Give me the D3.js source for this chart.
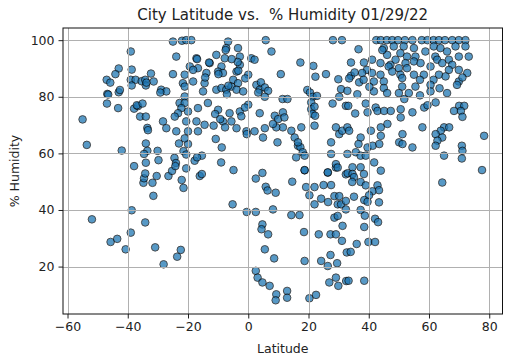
<!DOCTYPE html>
<html>
<head>
<meta charset="utf-8">
<script src="https://cdn.jsdelivr.net/npm/d3@7"></script>
<style>
  body { margin: 0; background: #fff; }
  svg { display: block; font-family: "DejaVu Sans", sans-serif; }
</style>
</head>
<body>
<svg id="vis"></svg>
<script>
const WIDTH = 515;
const HEIGHT = 364;

const TITLE = "City Latitude vs.  % Humidity 01/29/22";
const X_LABEL = "Latitude";
const Y_LABEL = "% Humidity";

const xTicks = [-60, -40, -20, 0, 20, 40, 60, 80];
const yTicks = [20, 40, 60, 80, 100];

// [latitude, humidity], grouped by area
const farSouth = [
  [-55,72],[-53.6,63],[-42,61],[-47,86],[-45.8,85],[-43,90],[-44.1,88],[-46.8,81],[-46.5,80.8],
  [-43,81.6],[-42.6,82.4],[-46.9,77.6],[-43.2,76],[-39,96],[-38.7,89.6],[-39,86],[-37.4,86],
  [-38.7,84],[-35.4,85.5],[-34.2,86],[-34,84],[-33.8,85],[-32.3,88.2],[-31.4,85.4],[-37.9,75.8],
  [-36.6,76.7],[-37,77],[-35.9,73],[-34,73],[-35.1,77.6],[-33.5,69],[-33.3,68.2],[-34,63.5],
  [-33.5,60.9],[-34.6,59.8],[-34,56.7],[-30.1,60.9],[-29.8,57.6],[-37.9,55.5],
  [-51.9,36.7],[-45.7,28.7],[-43.5,29.8],[-40.7,26.1],[-38.7,39.9],[-39,32],[-34.2,35.6],
  [-30.9,26.8],[-34.8,49.6],[-34.6,51.2],[-34.2,52.9],[-31.8,49.6],[-31.5,45],[-30.4,52]
];

const south = [
  [-23,63.5],[-20,63.3],[-21.5,60.8],[-20.6,59.6],[-17.8,57.4],[-24.5,58.4],[-24,56.6],
  [-21.1,65.3],[-28.1,20.8],[-23.6,23.5],[-22.4,25.9],[-26.5,52],[-25.3,53.8],[-24.2,55.5],
  [-22.1,50.6],[-21.5,47.8],[-20.6,54.7],[-16.1,52],
  [-25,99.5],[-22,99.8],[-20.6,100],[-18.9,100],[-6.7,99.5],[-7.3,97.2],[-3.4,97.2],
  [-23.9,94.2],[-17.2,93.6],[-10.6,94.8],[-7.8,93.6],[-2.8,94.2],[1,93.6],[2.1,93.1],
  [-19.4,90.7],[-12.8,91.9],[-8.9,90.7],[-2.8,91.3],[-3.5,92.3],
  [-16.7,90.1],[-18.3,89.5],[-13.9,88.4],[-10,88.9],[-8.4,88.4],[-3.9,88.9],[0,87.8],
  [-25,88],[-21.1,87.8],[-21.7,84.8],[-18.3,85.4],[-14.5,84.8],[-5,86],[-3.4,84.8],[-1,86.5],
  [-28.9,82.5],[-27.2,81.9],[-29.2,81.5],[-21.1,83.6],
  [-10.6,82.5],[-8.9,83.1],[-7.3,82.5],[-5.6,83.6],[-3.9,82.5],[-1.7,81.9],[2.7,84.2],[3.8,82.5],
  [-21.1,80.1],[-15,81.9],
  [-22.8,77.8],[-21.1,77.8],[-22.2,76],[-20,74.8],[-23.3,74.2],[-16.7,76],[-13.4,77.8],[-10,75.4],
  [-6.2,74.2],[-2.8,74.8],[-2.3,73.1],[0,77.2],[3.8,74.2],
  [-28.3,71.3],[-27.2,68.9],[-24.4,73],[-20.6,71.3],[-17.2,71.3],[-8.4,71.3],[-5.6,71.3],
  [-3.9,68.9],[-0.6,67.8],[2.1,67.8],[5.5,68.9],[-23.9,67.8],[-20,67.8],[-16.7,67.8],[-14.5,70.1],
  [-13,92.1],[-7.5,96.5],[-5.5,93.3],[-9.9,88],[-3.3,89.2],[-6.6,83.9],[4.2,85.1],[5.5,83.3],
  [6.6,82.1],[3.3,81.5],[5.5,80],[-7.1,80.9],[-14.3,86.8],[-17,93.3],
  [-11,73.9],[-7.7,69.2],[-11.5,69.8],[-9.3,72.1],[-1.1,76.2],[-0.5,66.8],[-10.8,65.1],[4.9,65.6]
];

const tropics = [
  [-8.8,62.1],[-15.4,59.2],[-17,58.6],[-9,56.8],[-4.9,54.1],[-15.4,52.7],[4.7,53.1],
  [-5.2,42],[-0.5,39.3],[2.5,39.3],[2.5,51.1],[5.8,48.2],[6.4,46.9],[9.1,46.1],[8.2,40.2],
  [14.6,50],[18.7,54],[14.3,38.2],[17,38.2],[4.7,34.9],[4.4,33.2],[6.6,31.4],[5.5,26.1],
  [8.6,22.9],[18.5,32.2],[23.4,31.4],[27.3,31.4],[29.1,31.4],[31.1,29.1],[19.2,48.1],
  [20.3,45.2],[22,48.1],[25,48.8],[27.5,48.8],[26.4,53.2],[29.1,55],[24.2,44],[22,42],
  [26.5,42.8],[28.6,44.9],[30.2,44.9],[29.7,42],[30.8,42],[32.4,43.2],[32.4,40.2],[28.6,37.3],
  [29.7,37.9],[31.3,34.4],[32.4,52.6],[32.7,25],[18.7,22],[24.2,22],[26.4,20.2],[27.3,24.1],
  [29.5,21.2],[2.5,18.5],[3.1,16.1],[4.7,14.4],[7.1,13.2],[9.3,10.2],[9.1,8.1],[12.9,11.4],
  [12.9,9],[20.3,8.8],[22.5,10],[26.9,14.4],[29.1,16.1],[29.9,13.2],[32.5,14.9],
  [16.5,62.7],[17.3,62.2],[18.1,60.4],[15.9,58.6],[18.7,59.2],[18.7,54.1],[27.5,59.8],
  [29.1,56.2],[29.7,55],[26.4,53.3],[33,53],
  [7.7,96],[5.8,100],[10.8,88],[11.4,79.2],[13,79.2],[17.3,92.1],[19.6,82.4],[20.5,81.5],
  [21.4,80],[22.8,80.3],[21.6,90.9],[22.3,87.1],[25.8,88],[28.1,100],[31.1,100],[29.9,86.2],
  [30.8,82.7],[30.2,80],[28,77.6],[32.4,76.8],[20.9,78],[20.9,75.6],[21.4,73.9],[22,76.5],
  [8.8,73.3],[9.9,72.1],[11.5,74.5],[12,72.7],[11.5,69.2],[9.3,69.2],[8.2,70.4],[9.7,63.9],
  [14.3,68],[15.4,65.6],[16.5,63.9],[17.6,69.2],[22,69.8],[22.2,73.3],[27.5,63.9],[29.1,69.2],
  [30.2,66.8],[31.2,68],[32.9,69.2]
];

const north = [
  [36.6,96.8],[34.1,92.1],[34.1,87.4],[35.3,88.6],[36.8,85.1],[32.9,82.1],[33.5,86.5],
  [36.2,80.9],[51.8,79.2],
  [33.2,76.8],[35.5,74.1],[39,77.6],[39.6,74.5],[42.3,76.2],[42.9,75],[45.1,75],[47.3,75],
  [50.6,75.6],[50.6,72.7],[54.5,74.5],[58.4,76.2],[57.8,69.2],[33.5,68],[37.3,65.6],[40.7,68],
  [44,66.2],[44,69.2],[46.2,70.4],[51.2,66.8],[50.1,63.9],[51.2,63.3],[54.5,62.1],[36.6,63.3],
  [39.6,62.1],[41.3,62.7],[43.5,63.3],[32.9,59.8],[35.7,60.4],[37.3,59.2],[39,59.2],[34.6,55.1],
  [37.3,55.1],[38.4,52.7],[41.8,56.8],[44,53.9],[34.6,52.7],
  [64.4,49.7],[35.1,51.6],[34.5,49.9],[37.3,49.9],[39,48.7],[42.9,48.7],[43.4,47],[41.2,46.6],
  [40.1,45.2],[35.1,44.7],[38.5,43.5],[39.6,42.9],[43.4,42.7],[37.3,40],[38.7,38],[42.1,36.9],
  [43.1,35.7],[38.5,34],[36,28],[34,25.2],[39.9,28.7],[42.1,28.7],[33.3,15],[38.5,15],
  [62.2,78],[59.5,77],[70,76.8],[71.7,76.8],[68.3,75],[70.6,75],[71.1,72.9],[78.3,66.2],
  [65,69.2],[66.7,69.2],[63.9,68],[62.2,66.8],[64.4,65.6],[62.8,64.5],[62.2,62.7],[65,59.2],
  [70.9,62.7],[71.1,60.9],[70.9,58.2],[77.6,54.1]
];

const farNorth = [
  [42.5,100],[44,100],[46,100],[47.8,100],[49.7,100],[52,100],[54.5,100],[57.6,100],[59.5,100],
  [61.5,100],[63.3,100],[65.3,100],[67.7,100],[69.9,100],[72.1,100],
  [45,97.2],[48.3,97.8],[51.6,97.8],[55,97.2],[61.6,97.8],[63.8,97.2],[66,96],[68.8,97.8],[72.1,97.8],
  [46.1,94.8],[50.5,95.4],[52.7,94.2],[55.5,94.2],[58.8,96],[62.1,94.2],[66.6,93.1],[69.9,94.2],[73.2,94.2],
  [41.1,93.1],[43.9,91.9],[47.2,91.3],[48.9,93.1],[52.2,91.9],[55,92.5],[57.2,91.9],[62.7,93.1],
  [64.4,91.9],[67.7,91.3],
  [39.4,89.5],[46.6,90.7],[50,90.1],[52.7,90.1],[60.5,90.7],[66.6,89.5],[69.9,89.5],
  [37.8,88.4],[41.1,88.4],[43.9,87.8],[47.8,88.9],[50.5,87.8],[55,87.8],[58.3,87.8],[63.3,87.8],
  [65.5,87.2],[72.7,88.4],
  [38.3,86],[41.7,85.4],[45,85.4],[51.1,86.6],[57,86],[61.5,86],[69.9,85.4],[71.1,86.8],
  [45,83.1],[51.1,83.6],[55.5,83.6],[60.5,84.2],[63.5,83],[69.3,84.2],
  [41.7,81.9],[46.1,81.3],[50,81.3],[53.3,81.3],[57,80.5],[60.5,81.9],[66,81.3],
  [38.4,92.1],[40.2,83.5],[44.5,96.5]
];

const points = [].concat(farSouth, south, tropics, north, farNorth);

const margin = { top: 28, right: 12.5, bottom: 50, left: 63 };

const svg = d3.select("#vis")
    .attr("width", WIDTH)
    .attr("height", HEIGHT);

svg.append("rect")
    .attr("width", WIDTH)
    .attr("height", HEIGHT)
    .attr("fill", "#fff");

const x = d3.scaleLinear()
    .domain([-61.5, 84.4])
    .range([margin.left, WIDTH - margin.right]);

const y = d3.scaleLinear()
    .domain([3.25, 104.3])
    .range([HEIGHT - margin.bottom, margin.top]);

// points
svg.append("g")
    .selectAll("circle")
    .data(points)
    .join("circle")
    .attr("cx", d => x(d[0]))
    .attr("cy", d => y(d[1]))
    .attr("r", 3.8)
    .attr("fill", "#1f77b4")
    .attr("stroke", "#000")
    .attr("stroke-width", 0.9)
    .attr("opacity", 0.75);

// grid (matplotlib draws it over the scatter)
const grid = svg.append("g").attr("stroke", "#b0b0b0").attr("stroke-width", 1);
grid.selectAll(".gx")
    .data(xTicks)
    .join("line")
    .attr("x1", d => Math.round(x(d)) + 0.5)
    .attr("x2", d => Math.round(x(d)) + 0.5)
    .attr("y1", margin.top)
    .attr("y2", HEIGHT - margin.bottom);
grid.selectAll(".gy")
    .data(yTicks)
    .join("line")
    .attr("y1", d => Math.round(y(d)) + 0.5)
    .attr("y2", d => Math.round(y(d)) + 0.5)
    .attr("x1", margin.left)
    .attr("x2", WIDTH - margin.right);

// axes
const fmt = d => d < 0 ? "\u2212" + Math.abs(d) : String(d);

const xAxis = svg.append("g")
    .attr("transform", `translate(0, ${HEIGHT - margin.bottom})`)
    .call(d3.axisBottom(x).tickValues(xTicks).tickFormat(fmt).tickSize(4.5).tickPadding(4));

const yAxis = svg.append("g")
    .attr("transform", `translate(${margin.left}, 0)`)
    .call(d3.axisLeft(y).tickValues(yTicks).tickFormat(fmt).tickSize(4.5).tickPadding(4));

[xAxis, yAxis].forEach(a => {
    a.select(".domain").remove();
    a.selectAll("text")
        .attr("font-family", "DejaVu Sans, sans-serif")
        .attr("font-size", 12.5)
        .attr("fill", "#222");
    a.selectAll("line").attr("stroke", "#222");
});

// frame
svg.append("rect")
    .attr("x", margin.left)
    .attr("y", margin.top)
    .attr("width", WIDTH - margin.left - margin.right)
    .attr("height", HEIGHT - margin.top - margin.bottom)
    .attr("fill", "none")
    .attr("stroke", "#111")
    .attr("stroke-width", 1);

svg.append("text")
    .attr("x", (margin.left + WIDTH - margin.right) / 2)
    .attr("y", 20)
    .attr("text-anchor", "middle")
    .attr("font-size", 15)
    .attr("fill", "#222")
    .style("white-space", "pre")
    .text(TITLE);

svg.append("text")
    .attr("x", (margin.left + WIDTH - margin.right) / 2)
    .attr("y", 353)
    .attr("text-anchor", "middle")
    .attr("font-size", 12.5)
    .attr("fill", "#222")
    .text(X_LABEL);

svg.append("text")
    .attr("transform", `translate(19, ${(margin.top + HEIGHT - margin.bottom) / 2}) rotate(-90)`)
    .attr("text-anchor", "middle")
    .attr("font-size", 12.5)
    .attr("fill", "#222")
    .text(Y_LABEL);
</script>
</body>
</html>
